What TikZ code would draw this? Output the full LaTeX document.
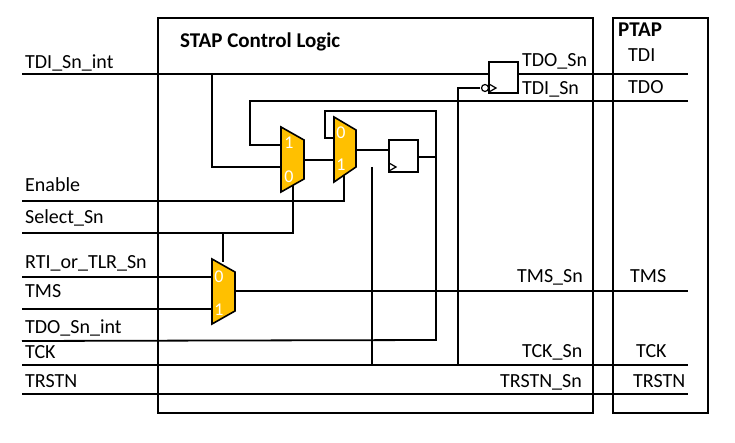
\documentclass[tikz,border=0pt]{standalone}
\usepackage{fontspec}
\setmainfont{Carlito}
\begin{document}
\begin{tikzpicture}[x=1pt,y=-1pt,
  w/.style={line width=1.8pt},
  box/.style={line width=2.6pt},
  mux/.style={line width=1.6pt,fill=muxc},
  ff/.style={line width=1.5pt,fill=white},
  lbl/.style={anchor=base west,inner sep=0pt,font=\fontsize{20}{22}\selectfont},
  ml/.style={inner sep=0pt,text=white,font=\fontsize{18}{18}\selectfont},
  hd/.style={anchor=base west,inner sep=0pt,font=\bfseries\fontsize{21}{23}\selectfont}]
\definecolor{muxc}{HTML}{FFC000}
\useasboundingbox (0,0) rectangle (735,443);
% boxes
\draw[box] (158,18) rectangle (593,413);
\draw[box] (613,18) rectangle (708,413);
\node[hd] (stap) at (180,48) {STAP Control Logic};
\node[hd] (ptap) at (618,37) {PTAP};
% coordinates
\coordinate (L1) at (22,74); \coordinate (L2) at (22,201); \coordinate (L3) at (22,233);
\coordinate (L4) at (22,277); \coordinate (L5) at (22,309); \coordinate (L6) at (22,341);
\coordinate (L7) at (22,365); \coordinate (L8) at (22,394);
\coordinate (R1) at (688,74); \coordinate (R2) at (688,101); \coordinate (R3) at (688,291);
\coordinate (R4) at (688,365); \coordinate (R5) at (688,394);
% wires
\draw[w] (L1) -- (489,74);
\draw[w] (212,74) -- (212,167) -- (281,167);
\draw[w] (518,74) -- (R1);
\draw[w] (R2) -- (250,101) -- (250,145) -- (281,145);
\draw[w] (304,160) -- (334,160);
\draw[w] (334,138) -- (325,138) -- (325,111) -- (436,111) -- (436,340) -- (L6);
\draw[w] (418,157) -- (436,157);
\draw[w] (356,150) -- (389,150);
\draw[w] (372,167) -- (372,365);
\draw[w] (458,365) -- (458,88) -- (480,88);
\draw[w] (344,174) -- (344,201) -- (L2);
\draw[w] (293,185) -- (293,233) -- (L3);
\draw[w] (223,233) -- (223,262);
\draw[w] (L4) -- (212,277);
\draw[w] (L5) -- (212,309);
\draw[w] (235,291) -- (R3);
\draw[w] (L7) -- (R4);
\draw[w] (L8) -- (R5);
% muxes
\draw[mux] (281,127) -- (304,140) -- (304,179) -- (281,192) -- cycle;
\node[ml] (m1a) at (289,143) {1}; \node[ml] (m1b) at (289,177) {0};
\draw[mux] (334,117) -- (356,130) -- (356,167) -- (334,182) -- cycle;
\node[ml] (m2a) at (341,133) {0}; \node[ml] (m2b) at (341,165) {1};
\draw[mux] (212,259) -- (235,272) -- (235,311) -- (212,324) -- cycle;
\node[ml] (m3a) at (219,277) {0}; \node[ml] (m3b) at (219,310) {1};
% flip-flops
\draw[ff] (389,140) rectangle (418,172);
\draw[line width=1.2pt] (389,163) -- (396,167) -- (389,171);
\draw[ff] (489,62) rectangle (518,93);
\draw[line width=1.2pt] (489,84) -- (496,88) -- (489,92);
\draw[line width=1.2pt,fill=white] (485,88) circle (3.5);
% labels
\node[lbl] (a1) at (25,69) {TDI\_Sn\_int};
\node[lbl] (a2) at (25,192) {Enable};
\node[lbl] (a3) at (25,224) {Select\_Sn};
\node[lbl] (a4) at (25,269) {RTI\_or\_TLR\_Sn};
\node[lbl] (a5) at (25,298) {TMS};
\node[lbl] (a6) at (25,333) {TDO\_Sn\_int};
\node[lbl] (a7) at (25,358) {TCK};
\node[lbl] (a8) at (25,387) {TRSTN};
\node[lbl] (b1) at (522,67) {TDO\_Sn};
\node[lbl] (b2) at (522,95) {TDI\_Sn};
\node[lbl] (b3) at (517,283) {TMS\_Sn};
\node[lbl] (b4) at (522,357) {TCK\_Sn};
\node[lbl] (b5) at (500,387) {TRSTN\_Sn};
\node[lbl] (c1) at (628,62) {TDI};
\node[lbl] (c2) at (628,94) {TDO};
\node[lbl] (c3) at (630,282) {TMS};
\node[lbl] (c4) at (636,357) {TCK};
\node[lbl] (c5) at (633,387) {TRSTN};
\end{tikzpicture}
\end{document}
